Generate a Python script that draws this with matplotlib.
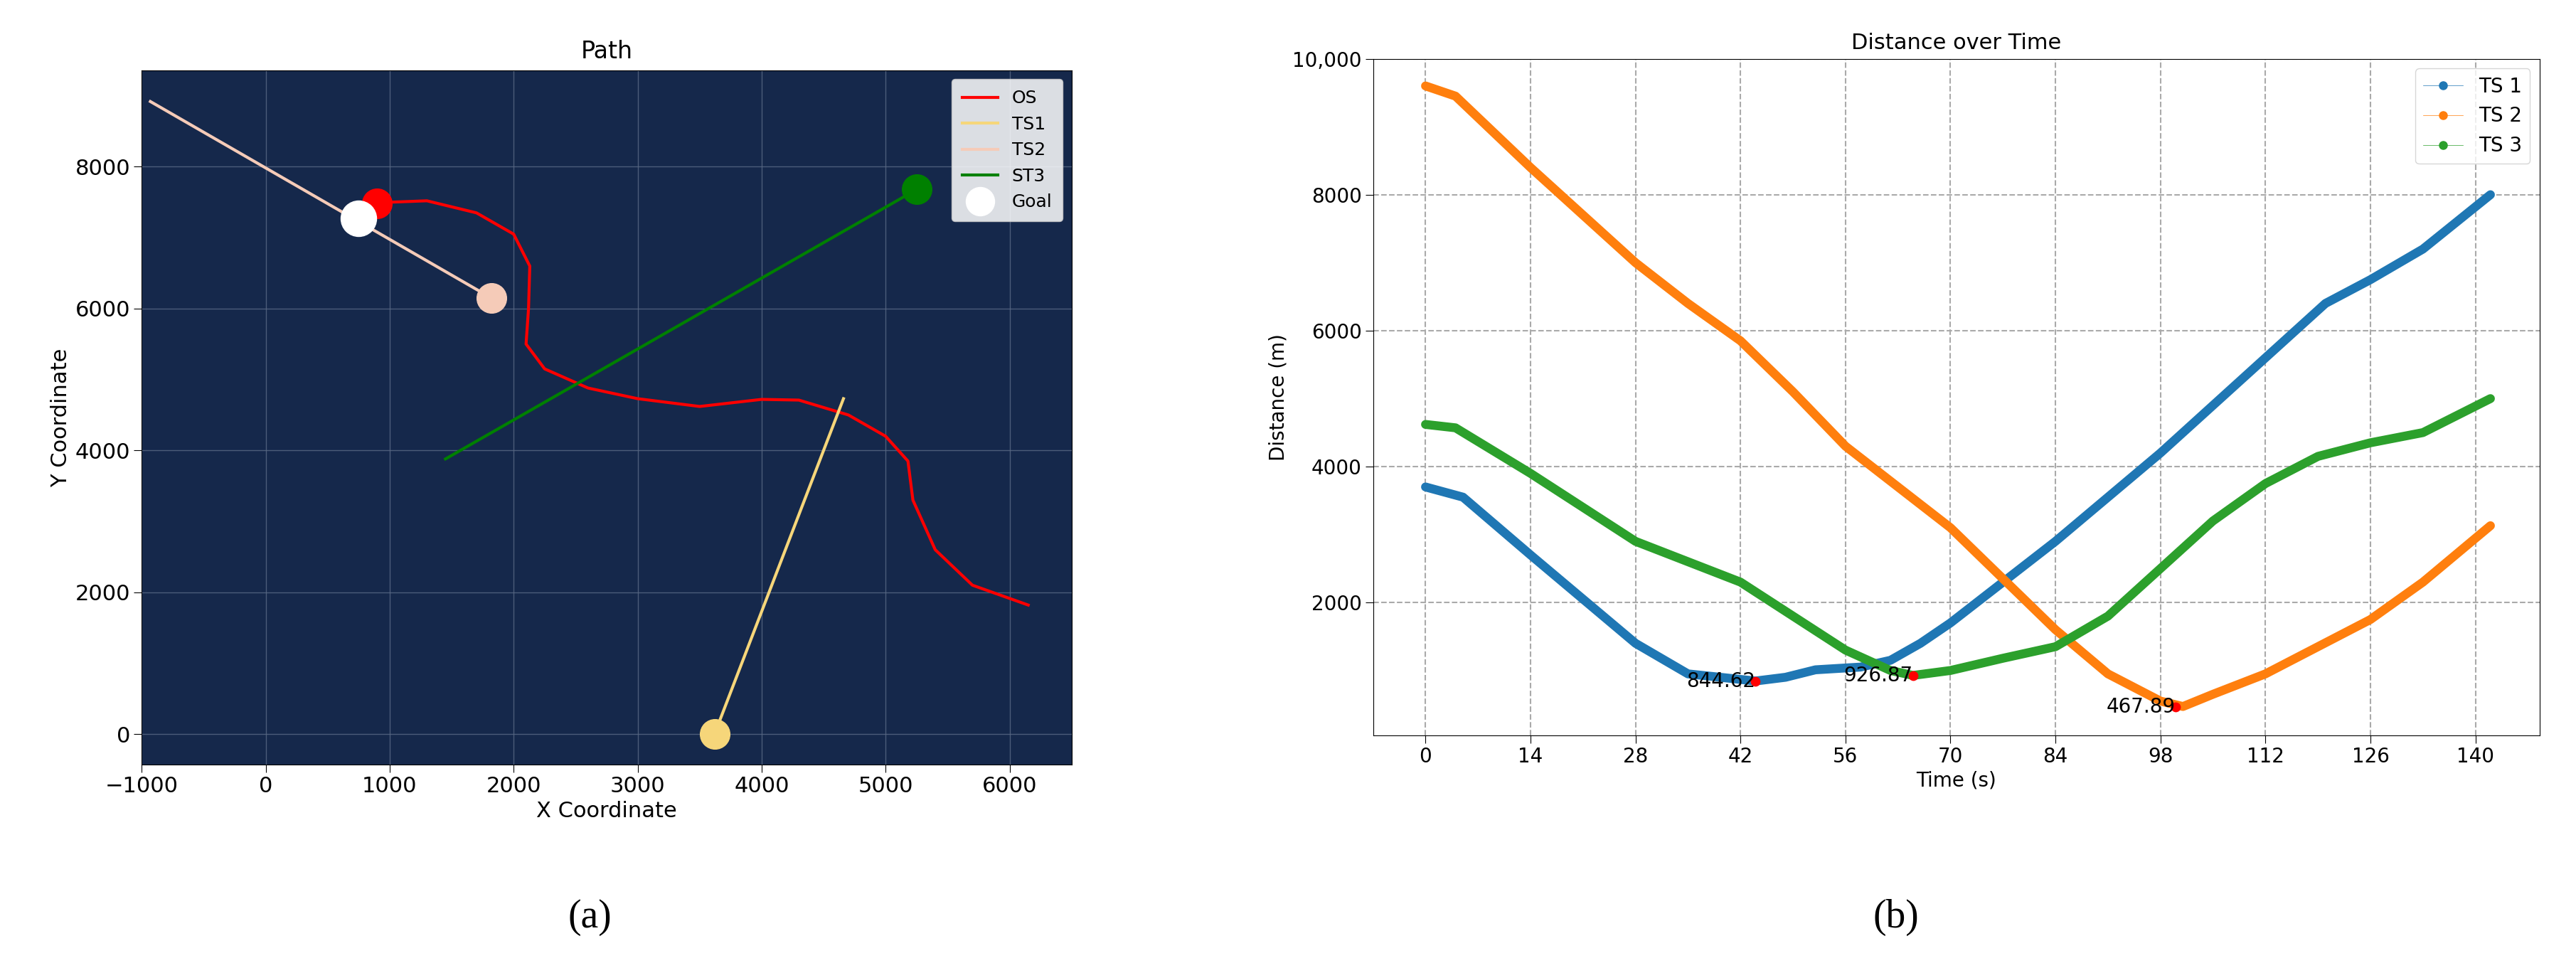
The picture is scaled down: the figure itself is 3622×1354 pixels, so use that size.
import matplotlib
matplotlib.use("Agg")
import matplotlib.pyplot as plt
from matplotlib.lines import Line2D
from matplotlib.ticker import FuncFormatter

# Path data
os_x = [900, 1000, 1300, 1700, 2000, 2130, 2120, 2100, 2250, 2600, 3000, 3500, 4000, 4300, 4700, 5000, 5180, 5220, 5400, 5700, 6150]
os_y = [7480, 7500, 7520, 7350, 7050, 6600, 6000, 5500, 5150, 4880, 4730, 4620, 4720, 4710, 4500, 4200, 3850, 3300, 2600, 2100, 1820]
ts1_x = [3620, 4660]; ts1_y = [0, 4730]
ts2_x = [-930, 1820]; ts2_y = [8920, 6150]
st3_x = [1450, 5250]; st3_y = [3880, 7680]
goal = (750, 7270)

# Distance data
t1 = [0, 5, 14, 28, 35, 44, 48, 52, 58, 62, 66, 70, 84, 98, 112, 120, 126, 133, 142]
d1 = [3700, 3550, 2700, 1400, 950, 845, 900, 1010, 1050, 1150, 1400, 1700, 2900, 4200, 5600, 6400, 6750, 7200, 8000]
t2 = [0, 4, 14, 28, 35, 42, 49, 56, 63, 70, 77, 84, 91, 98, 101, 105, 112, 119, 126, 133, 142]
d2 = [9600, 9450, 8400, 7000, 6400, 5850, 5100, 4300, 3700, 3100, 2350, 1600, 950, 550, 470, 650, 950, 1350, 1750, 2300, 3130]
t3 = [0, 4, 14, 28, 35, 42, 49, 56, 62, 65, 70, 77, 84, 91, 98, 105, 112, 119, 126, 133, 142]
d3 = [4620, 4570, 3900, 2900, 2600, 2300, 1800, 1300, 1000, 927, 1000, 1180, 1350, 1800, 2500, 3200, 3750, 4150, 4350, 4500, 5000]
min_t = [44, 65, 100]
min_d = [844.62, 926.87, 467.89]

fig = plt.figure(figsize=(36.22, 13.54), dpi=100)

ax = fig.add_axes([0.055, 0.206, 0.361, 0.721])
ax.set_facecolor('#15284b')
ax.grid(True, color='#5a6a85', linewidth=1, alpha=0.8)
ax.set_axisbelow(True)
ax.plot(os_x, os_y, color='red', lw=3, label='OS')
ax.plot(ts1_x, ts1_y, color='#f6d67a', lw=3, label='TS1')
ax.plot(ts2_x, ts2_y, color='#f5cbb8', lw=3, label='TS2')
ax.plot(st3_x, st3_y, color='green', lw=3, label='ST3')
ax.plot(os_x[0], os_y[0], 'o', color='red', ms=30, zorder=5)
ax.plot(ts1_x[0], ts1_y[0], 'o', color='#f6d67a', ms=30, zorder=5)
ax.plot(ts2_x[-1], ts2_y[-1], 'o', color='#f5cbb8', ms=30, zorder=5)
ax.plot(st3_x[-1], st3_y[-1], 'o', color='green', ms=30, zorder=5)
ax.plot(goal[0], goal[1], 'o', color='white', ms=36, zorder=6, label='Goal', linestyle='none')
ax.set_xlim(-1000, 6500)
ax.set_ylim(-430, 9360)
ax.set_xticks(range(-1000, 6001, 1000))
ax.set_yticks(range(0, 8001, 2000))
ax.tick_params(labelsize=22, length=8)
ax.set_xlabel('X Coordinate', fontsize=22)
ax.set_ylabel('Y Coordinate', fontsize=22)
ax.set_title('Path', fontsize=24, pad=12)
ax.legend(loc='upper right', fontsize=18, framealpha=0.85, markerscale=0.8, borderpad=0.6)
fig.text(0.229, 0.037, '(a)', fontsize=40, ha='center', family='Liberation Serif')

bx = fig.add_axes([0.533, 0.236, 0.453, 0.703])
bx.grid(True, linestyle='--', color='#aaaaaa', linewidth=1.5)
bx.plot(t1, d1, color='#1f77b4', lw=9, solid_capstyle='round')
bx.plot(t2, d2, color='#ff7f0e', lw=9, solid_capstyle='round')
bx.plot(t3, d3, color='#2ca02c', lw=9, solid_capstyle='round')
bx.scatter(min_t, min_d, color='red', s=80, zorder=5)
for tt, dd in zip(min_t, min_d):
    bx.text(tt, dd, f'{dd:.2f}', fontsize=20, ha='right', va='center', zorder=6)
bx.set_xlim(-7, 148.6)
bx.set_ylim(40, 10000)
bx.set_xticks(range(0, 141, 14))
bx.set_yticks([2000, 4000, 6000, 8000, 10000])
bx.yaxis.set_major_formatter(FuncFormatter(lambda v, p: '10,000' if v >= 10000 else f'{int(v)}'))
bx.tick_params(labelsize=20, length=8)
bx.set_xlabel('Time (s)', fontsize=20)
bx.set_ylabel('Distance (m)', fontsize=20)
bx.set_title('Distance over Time', fontsize=22, pad=10)
handles = [Line2D([0], [0], color=c, marker='o', ms=8, lw=1, alpha=1, markerfacecolor=c)
           for c in ['#1f77b4', '#ff7f0e', '#2ca02c']]
for h in handles:
    h.set_color(h.get_markerfacecolor()); h.set_linewidth(0.5)
bx.legend(handles, ['TS 1', 'TS 2', 'TS 3'], loc='upper right', fontsize=20)
fig.text(0.736, 0.037, '(b)', fontsize=40, ha='center', family='Liberation Serif')

fig.savefig('out.png', dpi=100)
